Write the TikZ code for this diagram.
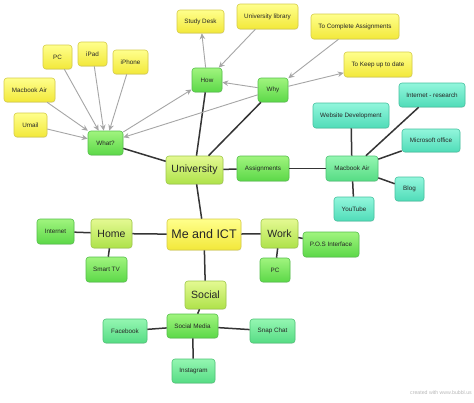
\documentclass[tikz,border=0pt]{standalone}
\usepackage{fontspec}
\setmainfont{Liberation Sans}
\usetikzlibrary{shadows,arrows.meta}
\definecolor{ytop}{HTML}{FFFF8C}
\definecolor{ybot}{HTML}{F2E83A}
\definecolor{ybrd}{HTML}{D6CC48}
\definecolor{gtop}{HTML}{A0F47E}
\definecolor{gbot}{HTML}{5CD848}
\definecolor{gbrd}{HTML}{55C04A}
\definecolor{mtop}{HTML}{94F6B2}
\definecolor{mbot}{HTML}{56DC84}
\definecolor{mbrd}{HTML}{4EC476}
\definecolor{ttop}{HTML}{92F6DC}
\definecolor{tbot}{HTML}{50DCB8}
\definecolor{tbrd}{HTML}{46C2A0}
\definecolor{ygtop}{HTML}{E4F992}
\definecolor{ygbot}{HTML}{AEE24A}
\definecolor{ygbrd}{HTML}{9EC84A}
\definecolor{darkln}{HTML}{353535}
\definecolor{grayln}{HTML}{A6A6A6}
\begin{document}
\begin{tikzpicture}[x=1pt,y=-1pt,
  box/.style={rounded corners=3pt, draw, line width=0.6pt, inner sep=0pt, align=center,
    text=black!85, font=\fontsize{6.3}{7}\selectfont,
    drop shadow={opacity=0.15, shadow xshift=0.4pt, shadow yshift=-0.9pt}},
  wh/.style 2 args={minimum width=#1pt, minimum height=#2pt},
  yel/.style={box, top color=ytop, bottom color=ybot, draw=ybrd},
  grn/.style={box, top color=gtop, bottom color=gbot, draw=gbrd},
  mnt/.style={box, top color=mtop, bottom color=mbot, draw=mbrd},
  tel/.style={box, top color=ttop, bottom color=tbot, draw=tbrd},
  ygr/.style={box, top color=ygtop, bottom color=ygbot, draw=ygbrd, font=\fontsize{10.5}{12}\selectfont},
  link/.style={draw=darkln, line width=1.5pt},
  arr/.style={draw=grayln, line width=0.9pt, -{Stealth[length=6pt,width=5.5pt]}}
]
\fill[white] (0,0) rectangle (474,402);
\useasboundingbox (0,0) rectangle (474,402);

% yellow leaves
\node[yel, wh={47}{23}] (studydesk) at (200.5,21.5) {Study Desk};
\node[yel, wh={61}{25}] (unilib) at (267.5,16.5) {University library};
\node[yel, wh={88}{25}] (tocomplete) at (355,26.5) {To Complete Assignments};
\node[yel, wh={68}{25}] (tokeep) at (378,64.5) {To Keep up to date};
\node[yel, wh={29}{24}] (pcy) at (57.5,57) {PC};
\node[yel, wh={29}{24}] (ipad) at (92.5,54) {iPad};
\node[yel, wh={35}{24}] (iphone) at (130.5,62) {iPhone};
\node[yel, wh={51}{24}] (macy) at (29.5,90) {Macbook Air};
\node[yel, wh={33}{24}] (umail) at (30.5,125) {Umail};

% green
\node[grn, wh={35}{24}] (what) at (105.5,143) {What?};
\node[grn, wh={30}{24}] (how) at (207,80) {How};
\node[grn, wh={30}{24}] (why) at (273,90) {Why};
\node[grn, wh={52}{25}] (assign) at (263,168.5) {Assignments};
\node[grn, wh={37}{25}] (internet) at (55.5,231.5) {Internet};
\node[grn, wh={41}{25}] (smarttv) at (106.5,269.5) {Smart TV};
\node[grn, wh={30}{24}] (pcg) at (275,270) {PC};
\node[grn, wh={56}{25}] (pos) at (331,244.5) {P.O.S Interface};
\node[grn, wh={51}{24}] (socmedia) at (192.5,326) {Social Media};

% mint
\node[mnt, wh={52}{25}] (macg) at (352,168.5) {Macbook Air};
\node[mnt, wh={44}{24}] (facebook) at (125,331) {Facebook};
\node[mnt, wh={45}{24}] (snapchat) at (272.5,331) {Snap Chat};
\node[mnt, wh={43}{24}] (instagram) at (193.5,371) {Instagram};

% teal
\node[tel, wh={76}{25}] (webdev) at (351,115.5) {Website Development};
\node[tel, wh={66}{24}] (intres) at (432,95) {Internet - research};
\node[tel, wh={58}{23}] (msoffice) at (431,140.5) {Microsoft office};
\node[tel, wh={29}{24}] (blog) at (409.5,189) {Blog};
\node[tel, wh={40}{24}] (youtube) at (354,209) {YouTube};

% yellow-green
\node[ygr, wh={57}{28}] (uni) at (194.5,170) {University};
\node[ygr, wh={41}{29}] (home) at (111.5,233.5) {Home};
\node[ygr, wh={37}{29}] (work) at (279.5,233.5) {Work};
\node[ygr, wh={41}{28}] (social) at (205.5,295) {Social};

% centre
\node[yel, wh={74}{31}, font=\fontsize{12.5}{14}\selectfont] (me) at (204,234.5) {Me and ICT};

% dark links
\draw[link] (me) -- (uni);
\draw[link] (me) -- (home);
\draw[link] (me) -- (work);
\draw[link] (me) -- (social);
\draw[link] (uni) -- (what);
\draw[link] (uni) -- (how);
\draw[link] (uni) -- (why);
\draw[link] (uni) -- (assign);
\draw[link] (assign) -- (macg);
\draw[link] (macg) -- (webdev);
\draw[link] (macg) -- (intres);
\draw[link] (macg) -- (msoffice);
\draw[link] (macg) -- (blog);
\draw[link] (macg) -- (youtube);
\draw[link] (home) -- (internet);
\draw[link] (home) -- (smarttv);
\draw[link] (work) -- (pos);
\draw[link] (work) -- (pcg);
\draw[link] (social) -- (socmedia);
\draw[link] (socmedia) -- (facebook);
\draw[link] (socmedia) -- (snapchat);
\draw[link] (socmedia) -- (instagram);

% gray arrows
\draw[arr] (pcy) -- (what);
\draw[arr] (ipad) -- (what);
\draw[arr] (iphone) -- (what);
\draw[arr] (macy) -- (what);
\draw[arr] (umail) -- (what);
\draw[arr] (what) -- (how);
\draw[arr] (why) -- (what);
\draw[arr] (why) -- (how);
\draw[arr] (how) -- (studydesk);
\draw[arr] (unilib) -- (how);
\draw[arr] (tocomplete) -- (why);
\draw[arr] (why) -- (tokeep);

% watermark
\node[anchor=east, inner sep=0pt, text=black!28, font=\fontsize{5.2}{6}\selectfont] (wm) at (472,393) {created with www.bubbl.us};
\end{tikzpicture}
\end{document}
